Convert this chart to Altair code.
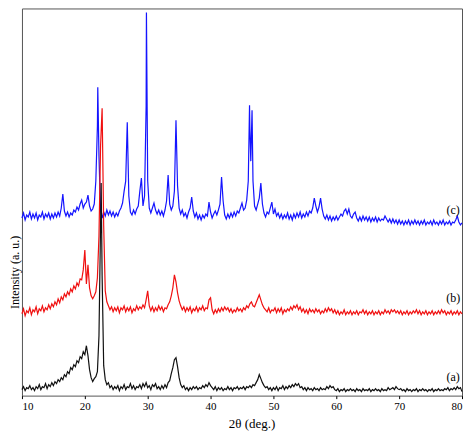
import altair as alt
import numpy as np
import pandas as pd

# 2-theta sampling grid, 10..80 deg every 0.25 deg
two_theta = np.linspace(10, 80, 281)

# intensities (arbitrary units), one row per 5 deg
sample_a = [
    6, 9, 5, 8, 7, 10, 6, 8, 5, 9, 7, 11, 6, 9, 8, 12, 7, 11, 9, 13,
    10, 14, 12, 16, 14, 18, 16, 21, 19, 24, 22, 28, 26, 31, 29, 35, 33, 39, 37, 44,
    41, 50, 40, 26, 18, 14, 17, 19, 24, 60, 170, 120, 30, 16, 11, 13, 8, 10, 6, 9,
    7, 10, 5, 9, 7, 11, 6, 9, 8, 12, 7, 10, 6, 9, 8, 11, 7, 12, 9, 13,
    8, 10, 6, 11, 9, 12, 7, 9, 6, 10, 7, 11, 8, 13, 15, 22, 28, 36, 38, 29,
    18, 11, 8, 10, 6, 8, 5, 8, 6, 9, 7, 9, 6, 8, 7, 10, 8, 11, 9, 13,
    10, 8, 6, 9, 5, 8, 6, 8, 5, 7, 6, 9, 6, 8, 5, 8, 7, 9, 6, 8,
    7, 9, 6, 9, 8, 10, 8, 11, 10, 13, 16, 21, 17, 13, 10, 8, 9, 6, 8, 5,
    8, 6, 9, 5, 8, 7, 10, 6, 9, 7, 10, 8, 11, 9, 12, 10, 12, 8, 9, 6,
    8, 5, 8, 6, 7, 5, 8, 6, 7, 5, 8, 6, 7, 6, 9, 7, 10, 8, 9, 6,
    5, 7, 4, 6, 5, 7, 4, 6, 5, 7, 5, 6, 4, 7, 5, 6, 4, 7, 5, 6,
    5, 7, 4, 6, 5, 7, 5, 6, 4, 7, 5, 6, 5, 8, 6, 7, 8, 6, 9, 7,
    6, 7, 5, 6, 4, 7, 5, 6, 4, 6, 5, 7, 4, 6, 5, 7, 5, 6, 4, 6,
    5, 7, 4, 6, 5, 7, 5, 6, 5, 7, 6, 8, 5, 7, 6, 8, 6, 9, 7, 8,
    4,
]
sample_b = [
    82, 87, 80, 85, 83, 88, 81, 86, 84, 89, 82, 87, 85, 90, 84, 88, 86, 91, 87, 92,
    89, 94, 91, 97, 93, 99, 96, 102, 99, 104, 101, 107, 104, 110, 107, 113, 110, 117, 116, 126,
    146, 112, 131, 108, 100, 97, 100, 104, 118, 160, 250, 288, 170, 105, 94, 90, 86, 89, 84, 88,
    85, 89, 83, 88, 86, 90, 84, 88, 85, 89, 83, 87, 85, 90, 86, 89, 87, 91, 88, 96,
    105, 90, 85, 89, 84, 88, 85, 90, 86, 89, 84, 88, 87, 91, 94, 100, 108, 121, 114, 103,
    95, 90, 86, 89, 84, 88, 85, 89, 83, 87, 85, 89, 84, 88, 86, 90, 85, 88, 87, 96,
    98, 86, 82, 86, 83, 87, 84, 88, 85, 89, 86, 88, 84, 87, 83, 86, 84, 88, 85, 87,
    84, 88, 86, 90, 88, 92, 94, 90, 89, 93, 97, 101, 96, 91, 88, 86, 84, 88, 83, 86,
    85, 88, 83, 87, 84, 88, 82, 86, 84, 87, 85, 89, 86, 90, 88, 91, 86, 89, 84, 87,
    83, 86, 82, 87, 84, 86, 83, 87, 84, 86, 82, 85, 83, 87, 84, 88, 85, 87, 83, 86,
    82, 85, 81, 84, 82, 86, 81, 84, 82, 85, 81, 84, 82, 85, 81, 84, 83, 86, 82, 85,
    81, 84, 82, 85, 81, 84, 82, 85, 81, 84, 82, 86, 83, 85, 82, 86, 84, 86, 83, 85,
    82, 85, 81, 84, 82, 85, 81, 84, 82, 85, 83, 86, 82, 85, 81, 84, 82, 85, 81, 84,
    82, 85, 81, 84, 82, 85, 82, 86, 83, 85, 81, 84, 82, 85, 81, 84, 82, 85, 81, 84,
    82,
]
sample_c = [
    178, 183, 176, 181, 179, 184, 177, 182, 178, 183, 176, 181, 179, 184, 177, 182, 179, 183, 177, 182,
    178, 183, 179, 184, 180, 188, 202, 185, 180, 184, 179, 183, 181, 186, 184, 189, 186, 192, 196, 188,
    192, 194, 201, 190, 185, 187, 192, 215, 270, 240, 185, 178, 184, 180, 186, 181, 185, 180, 184, 179,
    183, 180, 185, 188, 193, 205, 215, 274, 200, 184, 181, 186, 182, 187, 190, 205, 218, 190, 200, 290,
    215, 188, 183, 188, 193, 186, 182, 186, 181, 185, 180, 186, 195, 221, 192, 186, 190, 205, 276, 210,
    188, 182, 186, 180, 183, 178, 184, 188, 199, 185, 179, 183, 177, 181, 176, 181, 178, 182, 180, 194,
    184, 178, 182, 185, 181, 186, 192, 219, 195, 181, 177, 182, 178, 183, 179, 184, 180, 185, 183, 188,
    193, 186, 188, 196, 215, 270, 260, 215, 190, 186, 192, 198, 213, 192, 183, 179, 184, 182, 188, 194,
    182, 187, 180, 183, 178, 182, 177, 181, 178, 183, 177, 181, 176, 182, 178, 183, 179, 184, 178, 182,
    179, 184, 180, 185, 183, 188, 198, 190, 184, 189, 198, 187, 180, 177, 181, 176, 180, 175, 179, 176,
    180, 176, 179, 182, 180, 185, 187, 182, 187, 180, 178, 182, 184, 178, 175, 179, 175, 180, 176, 179,
    175, 179, 174, 178, 175, 179, 174, 178, 175, 177, 176, 180, 177, 174, 177, 173, 177, 173, 176, 172,
    176, 172, 175, 171, 175, 172, 176, 171, 175, 172, 176, 172, 175, 171, 175, 172, 176, 171, 174, 172,
    175, 171, 176, 172, 174, 171, 175, 172, 176, 171, 174, 172, 175, 171, 174, 173, 176, 180, 174, 171,
    173,
]

# sharp peak tops that fall between grid points: (2theta, intensity)
peaks_a = [(22.6, 213)]
peaks_b = []
peaks_c = [(22.06, 309), (29.8, 384), (46.2, 291), (46.4, 235), (46.6, 286)]

labels = ["(c)", "(b)", "(a)"]
label_y = [186, 98, 19]


def pattern(values, peaks):
    df = pd.DataFrame({"x": two_theta, "y": values})
    if peaks:
        df = pd.concat([df, pd.DataFrame(peaks, columns=["x", "y"])])
    return df.sort_values("x")


serif = "Liberation Serif"
x_scale = alt.Scale(domain=[10, 80], nice=False, zero=False)
y_scale = alt.Scale(domain=[0, 388], nice=False)

x_enc = alt.X("x:Q", scale=x_scale, axis=alt.Axis(
    values=list(range(10, 81, 10)), title="2θ (deg.)", grid=False, domain=False,
    tickSize=3, tickColor="black", labelFont=serif, labelFontSize=11, labelColor="black",
    labelPadding=2, titleFont=serif, titleFontSize=13, titleFontWeight="normal",
    titleColor="black", titleX=230, titleY=28, titleBaseline="middle"))
y_enc = alt.Y("y:Q", scale=y_scale, axis=alt.Axis(
    labels=False, ticks=False, domain=False, grid=False, title="Intensity (a. u.)",
    titleFont=serif, titleFontSize=12, titleFontWeight="normal", titleColor="black",
    titleX=-7, titleY=264, titleAlign="center", titleBaseline="middle", titleAngle=-90))


def line(df, colour):
    return alt.Chart(df).mark_line(color=colour, strokeWidth=1.2).encode(x=x_enc, y=y_enc)


line_c = line(pattern(sample_c, peaks_c), "#1414ff")
line_b = line(pattern(sample_b, peaks_b), "#f01010")
line_a = line(pattern(sample_a, peaks_a), "#111111")

text = alt.Chart(pd.DataFrame({"x": [78.6] * 3, "y": label_y, "t": labels})).mark_text(
    font=serif, fontSize=12, color="black").encode(x="x:Q", y="y:Q", text="t:N")

chart = alt.layer(line_c, line_b, line_a, text).properties(
    width=441, height=388,
    autosize=alt.AutoSizeParams(type="none"),
    padding={"left": 14, "top": 0, "right": 4, "bottom": 37},
).configure_view(stroke="#555555", strokeWidth=1)

chart.save("out.html", embed_options={"renderer": "svg", "actions": False})
